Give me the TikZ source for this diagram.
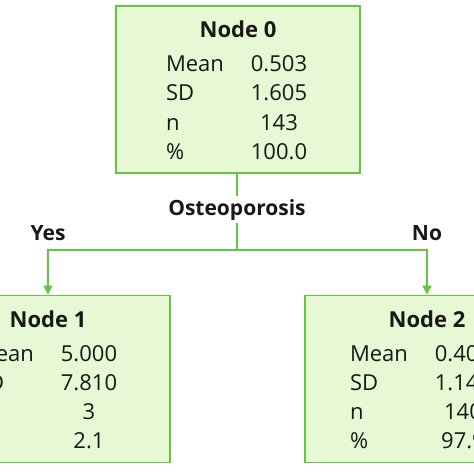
\documentclass[tikz,border=0pt]{standalone}
\usepackage{fontspec}
\setmainfont{Open Sans}
\usepackage{array}
\usetikzlibrary{arrows.meta,positioning}
\definecolor{treegreen}{RGB}{98,198,62}
\definecolor{treefill}{RGB}{230,249,212}
\definecolor{treeink}{RGB}{24,24,24}

% contents of one tree node: [shift], title, mean, sd, n, percent
\newcommand{\nodestats}[6][0pt]{\rule{0pt}{27pt}\textbf{#2}\\[12pt]
  \renewcommand{\arraystretch}{1.22}%
  \hspace*{#1}\begin{tabular}{@{}p{70pt}>{\centering\arraybackslash}p{62pt}@{}}
    Mean & #3\\ SD & #4\\ n & #5\\ \% & #6
  \end{tabular}}

\begin{document}
\begin{tikzpicture}[x=1pt,y=1pt,
      font=\fontsize{22}{24}\selectfont,text=treeink,
      treebox/.style={draw=treegreen,line width=1.8pt,fill=treefill,
                  minimum width=244pt,minimum height=167pt,align=center,inner sep=0pt},
      lbl/.style={font=\fontsize{21}{24}\selectfont\bfseries},
      ln/.style={treegreen,line width=1.8pt},
      ar/.style={ln,-{Triangle[length=9pt,width=9pt]}}]
    \clip (0,0) rectangle (474,474);
    \useasboundingbox (0,0) rectangle (474,474);
    \fill[white] (0,0) rectangle (474,474);
    \node[treebox] (n0) at (238,384.5) {\nodestats{Node 0}{0.503}{1.605}{143}{100.0}};
    \node[treebox] (n1) at (48,95) {\nodestats{Node 1}{5.000}{7.810}{3}{2.1}};
    \node[treebox] (n2) at (427,95) {\nodestats[-10pt]{Node 2}{0.405}{1.144}{140}{97.9}};
    \node[lbl,inner sep=2pt] (split) at (237,264) {Osteoporosis};
    \coordinate (fork) at (237,224);
    \node[lbl] (yes) at (48,241) {Yes};
    \node[lbl] (no) at (427,241) {No};
    \draw[ln] (n0.south -| split) -- ++(0,-22);
    \draw[ln] (split.south) -- (fork);
    \draw[ar] (fork) -| (n1.north);
    \draw[ar] (fork) -| (n2.north);
  \end{tikzpicture}
\end{document}
